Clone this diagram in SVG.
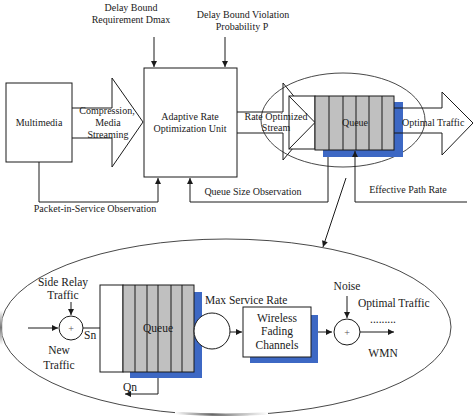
<svg xmlns="http://www.w3.org/2000/svg" width="474" height="418" viewBox="0 0 474 418">
<defs>
<style>
text{font-family:"Liberation Serif","Times New Roman",serif;fill:#1a1a1a;}
.t{font-size:10px;}
.b{font-size:11.5px;}
.ln{fill:none;stroke:#1a1a1a;stroke-width:1;}
.bx{fill:#fff;stroke:#1a1a1a;stroke-width:1;}
.q{fill:#c0c0c0;stroke:#1a1a1a;stroke-width:1;}
.sh{fill:#3d68c4;}
.el{fill:none;stroke:#333;stroke-width:0.9;}
</style>
<marker id="ah" viewBox="0 0 10 10" refX="10" refY="5" markerWidth="7" markerHeight="6" orient="auto" markerUnits="userSpaceOnUse">
<path d="M0,0 L10,5 L0,10 z" fill="#1a1a1a"/>
</marker>
<linearGradient id="gl" x1="0" y1="0" x2="0" y2="1">
<stop offset="0" stop-color="#fff"/><stop offset="0.5" stop-color="#777"/><stop offset="1" stop-color="#fff"/>
</linearGradient>
<linearGradient id="gb" x1="0" y1="0" x2="1" y2="0">
<stop offset="0" stop-color="#fff"/><stop offset="0.4" stop-color="#666"/><stop offset="0.7" stop-color="#bbb"/><stop offset="1" stop-color="#fff"/>
</linearGradient>
</defs>

<g id="ellipses">
<ellipse cx="343" cy="120" rx="82" ry="47" class="el"/>
<ellipse cx="226" cy="327" rx="225" ry="88" class="el"/>
<path d="M1.5,310 Q0.5,327 1.5,345" fill="none" stroke="url(#gl)" stroke-width="2.5"/>
<path d="M175,413 Q222,416 268,413.5" fill="none" stroke="url(#gb)" stroke-width="2.5"/>
</g>

<g id="labels-top">
<text class="t" x="131" y="11" text-anchor="middle">Delay Bound</text>
<text class="t" x="131" y="23" text-anchor="middle">Requirement Dmax</text>
<text class="t" x="243" y="18" text-anchor="middle">Delay Bound Violation</text>
<text class="t" x="242" y="30" text-anchor="middle">Probability P</text>
</g>

<g id="multimedia">
<rect x="6" y="83" width="66" height="79" class="bx"/>
<text class="t" x="39" y="126" text-anchor="middle">Multimedia</text>
</g>

<g id="compression-arrow">
<path d="M72,108 L112,108 L112,78 L143,122 L112,167 L112,138 L72,138" class="ln"/>
<text class="t" x="107" y="114" text-anchor="middle">Compression,</text>
<text class="t" x="108" y="126" text-anchor="middle">Media</text>
<text class="t" x="108" y="138" text-anchor="middle">Streaming</text>
</g>

<g id="adaptive">
<rect x="144" y="68" width="93" height="109" class="bx"/>
<text class="t" x="190" y="120" text-anchor="middle">Adaptive Rate</text>
<text class="t" x="190" y="132" text-anchor="middle">Optimization Unit</text>
</g>

<g id="rate-arrow">
<path d="M237,112 L283,112 L283,83 L315,122 L283,160 L283,133 L237,133" class="ln"/>
</g>

<g id="queue-top">
<rect x="323" y="102" width="80" height="55" class="sh"/>
<rect x="289" y="96" width="26" height="53" class="bx"/>
<path d="M289,96 L315,122.5 L289,149" class="ln"/>
<rect x="315" y="96" width="79" height="54" class="q"/>
<path d="M329,96 V150 M343,96 V150 M356,96 V150 M369,96 V150 M382,96 V150" class="ln"/>
<text class="t" x="355" y="126" text-anchor="middle">Queue</text>
</g>

<g id="rate-label">
<text class="t" x="276" y="120" text-anchor="middle">Rate Optimized</text>
<text class="t" x="276" y="131" text-anchor="middle">Stream</text>
</g>

<g id="optimal-arrow">
<path d="M394,108 L442,108 L442,92 L473,123 L442,155 L442,133 L394,133" class="ln"/>
<text class="t" x="402" y="126">Optimal Traffic</text>
</g>

<g id="connectors">
<path d="M154,37 V67" class="ln" marker-end="url(#ah)"/>
<path d="M225,37 V67" class="ln" marker-end="url(#ah)"/>
<path d="M39,162 V202 H158 V178" class="ln" marker-end="url(#ah)"/>
<path d="M328,157 V202 H190 V178" class="ln" marker-end="url(#ah)"/>
<path d="M467,202 H355 V151" class="ln" marker-end="url(#ah)"/>
<path d="M346,178 L323,247" class="ln" marker-end="url(#ah)"/>
<path d="M28,328 H58" class="ln" marker-end="url(#ah)"/>
<path d="M71,302 V315" class="ln" marker-end="url(#ah)"/>
<path d="M83,328 H122" class="ln" marker-end="url(#ah)"/>
<path d="M158,372 V394 H125" class="ln" marker-end="url(#ah)"/>
<path d="M230,332 H242" class="ln" marker-end="url(#ah)"/>
<path d="M311,332 H332" class="ln" marker-end="url(#ah)"/>
<path d="M347,296 V318" class="ln" marker-end="url(#ah)"/>
<path d="M360,332 H394" class="ln" marker-end="url(#ah)"/>
</g>

<g id="labels-obs">
<text class="t" x="95" y="212" text-anchor="middle">Packet-in-Service Observation</text>
<text class="t" x="253" y="195" text-anchor="middle">Queue Size Observation</text>
<text class="t" x="408" y="193" text-anchor="middle">Effective Path Rate</text>
</g>

<g id="sum1">
<circle cx="71" cy="328" r="12" class="bx"/>
<text x="71" y="332" font-size="10" text-anchor="middle" style="fill:#555">+</text>
<text class="b" x="63" y="286" text-anchor="middle">Side Relay</text>
<text class="b" x="63" y="299" text-anchor="middle">Traffic</text>
<text class="b" x="59" y="354" text-anchor="middle">New</text>
<text class="b" x="59" y="369" text-anchor="middle">Traffic</text>
<text class="b" x="84" y="339">Sn</text>
</g>

<g id="queue-bottom">
<rect x="130" y="292" width="72" height="86" class="sh"/>
<rect x="100" y="285" width="23" height="87" class="bx"/>
<rect x="123" y="285" width="71" height="87" class="q"/>
<path d="M135,285 V372 M147,285 V372 M158,285 V372 M171,285 V372 M182,285 V372" class="ln"/>
<text class="b" x="158" y="332" text-anchor="middle">Queue</text>
<text class="b" x="123" y="391">Qn</text>
</g>

<g id="service">
<circle cx="212" cy="331" r="18" class="bx"/>
<text class="b" x="205" y="304">Max Service Rate</text>
</g>

<g id="wireless">
<rect x="250" y="315" width="68" height="48" class="sh"/>
<rect x="243" y="307" width="68" height="50" class="bx"/>
<text class="b" x="277" y="322" text-anchor="middle">Wireless</text>
<text class="b" x="277" y="335" text-anchor="middle">Fading</text>
<text class="b" x="277" y="349" text-anchor="middle">Channels</text>
</g>

<g id="sum2">
<circle cx="347" cy="332" r="13" class="bx"/>
<text x="347" y="336" font-size="10" text-anchor="middle" style="fill:#555">+</text>
<text class="b" x="347" y="290" text-anchor="middle">Noise</text>
<text class="b" x="358" y="307">Optimal Traffic</text>
<text class="b" x="383" y="323" text-anchor="middle">.........</text>
<text class="b" x="383" y="357" text-anchor="middle">WMN</text>
</g>
</svg>
